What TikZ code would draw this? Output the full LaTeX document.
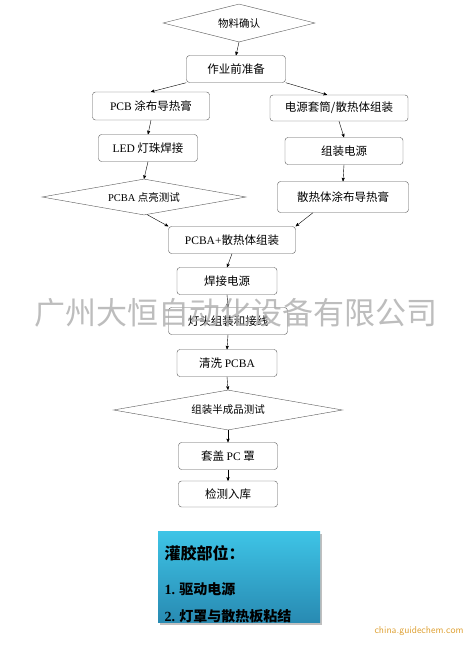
\documentclass[tikz,border=0pt]{standalone}
\usepackage{fontspec}
\setmainfont{Liberation Serif}
\newfontfamily\cjk{Noto Sans CJK SC}
\usepackage{tikz}
\usetikzlibrary{positioning,shapes,arrows,shadows}
\definecolor{panelTop}{RGB}{62,196,230}
\definecolor{panelBot}{RGB}{40,138,178}
\definecolor{siteText}{RGB}{222,160,50}
\tikzset{box/.style={draw=gray!70!black, rounded corners=3pt, fill=white, inner sep=0pt,
                     font=\cjk\fontsize{11.5}{13}\selectfont},
         test/.style={diamond, draw=gray!70!black, fill=white, inner sep=0pt,
                      font=\cjk\fontsize{10.5}{12}\selectfont},
         flow/.style={->, >=stealth', thin},
         panel/.style={draw=none, top color=panelTop, bottom color=panelBot, drop shadow}
}

\begin{document}
\begin{tikzpicture}[x=1pt,y=-1pt]
  \useasboundingbox (0,0) rectangle (474,651);
  % main column
  \node[test, aspect=4, minimum width=152pt, minimum height=38pt] (wl) at (239,23) {物料确认};
  \node[box, minimum width=99pt, minimum height=27pt] (zb) at (236,69) {作业前准备};
  % left branch
  \node[box, minimum width=117pt, minimum height=28pt] (pcb) at (151,106) {{\rmfamily PCB} 涂布导热膏};
  \node[box, minimum width=99pt, minimum height=27pt] (led) at (148,148) {{\rmfamily LED} 灯珠焊接};
  \node[test, aspect=5.6, minimum width=204pt, minimum height=36pt] (ld) at (144,197) {{\rmfamily PCBA} 点亮测试};
  % right branch
  \node[box, minimum width=138pt, minimum height=26pt] (dy) at (339,108) {电源套筒/散热体组装};
  \node[box, minimum width=118pt, minimum height=27pt] (zz) at (344,151) {组装电源};
  \node[box, minimum width=131pt, minimum height=31pt] (srt) at (343,197) {散热体涂布导热膏};
  % joined
  \node[box, minimum width=127pt, minimum height=27pt] (pcba) at (232,240) {{\rmfamily PCBA+}散热体组装};
  \node[box, minimum width=100pt, minimum height=27pt] (hj) at (227,281) {焊接电源};
  \node[box, minimum width=119pt, minimum height=27pt] (dt) at (228,321) {灯头组装和接线};
  \node[box, minimum width=100pt, minimum height=27pt] (qx) at (227,363) {清洗 {\rmfamily PCBA}};
  \node[test, aspect=5.7, minimum width=229pt, minimum height=40pt] (bcp) at (228,410) {组装半成品测试};
  \node[box, minimum width=99pt, minimum height=27pt] (tg) at (228,456) {套盖 {\rmfamily PC} 罩};
  \node[box, minimum width=99pt, minimum height=26pt] (jc) at (228,494) {检测入库};

  \draw[flow] (wl.south) -- (zb.north);
  \draw[flow] (zb.south west) -- (pcb.north);
  \draw[flow] (zb.south east) -- ([xshift=-12pt]dy.north);
  \draw[flow] (pcb.south) -- (led.north);
  \draw[flow] (led.south) -- (ld.north);
  \draw[flow] (dy.south) -- (zz.north);
  \draw[flow] (zz.south) -- (srt.north);
  \draw[flow] (ld.-80) -- (pcba.north west);
  \draw[flow] ([xshift=-30pt]srt.south) -- (pcba.north east);
  \draw[flow] (pcba.south) -- (hj.north);
  \draw[flow] (hj.south) -- (dt.north);
  \draw[flow] (dt.south) -- (qx.north);
  \draw[flow] (qx.south) -- (bcp.north);
  \draw[flow] (bcp.south) -- (tg.north);
  \draw[flow] (tg.south) -- (jc.north);

  % potting note
  \node[panel, minimum width=162pt, minimum height=91pt, inner sep=0pt] (gj) at (239,577) {};
  \node[anchor=west, font=\cjk\bfseries\fontsize{16}{18}\selectfont] (gjt) at (161,553) {灌胶部位：};
  \node[anchor=west, font=\cjk\bfseries\fontsize{14}{16}\selectfont] (gj1) at (161,589) {{\rmfamily 1.} 驱动电源};
  \node[anchor=west, font=\cjk\bfseries\fontsize{14}{16}\selectfont] (gj2) at (161,616) {{\rmfamily 2.} 灯罩与散热板粘结};

  % watermarks
  \node[font=\cjk\fontsize{31}{33}\selectfont, text=gray!65, opacity=0.8] (wm) at (236,313) {广州大恒自动化设备有限公司};
  \node[anchor=west, font=\sffamily\fontsize{10}{12}\selectfont, text=siteText] (site) at (371,631) {china.guidechem.com};
\end{tikzpicture}
\end{document}
